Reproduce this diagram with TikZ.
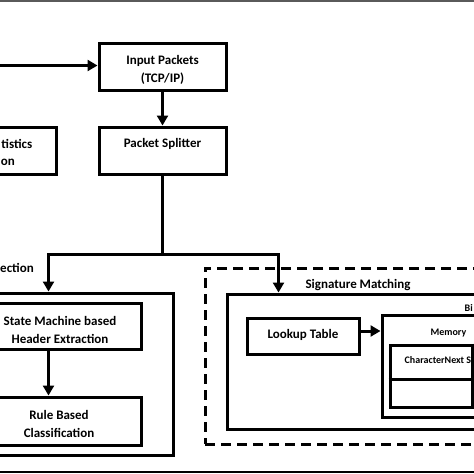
\documentclass[tikz,border=0pt]{standalone}
\usepackage{fontspec}
\setmainfont{Carlito}
\usetikzlibrary{arrows.meta,calc}
\definecolor{topgray}{RGB}{90,90,90}
\begin{document}
\begin{tikzpicture}[x=1pt,y=-1pt,
  box/.style={draw,line width=3pt,rectangle,inner sep=0pt},
  dbox/.style={draw,line width=3pt,rectangle,inner sep=0pt,dash pattern=on 10pt off 6pt},
  txt/.style={inner sep=0pt,align=center,font=\fontsize{13}{18}\selectfont\bfseries},
  stxt/.style={inner sep=0pt,align=center,font=\fontsize{10}{12}\selectfont\bfseries},
  conn/.style={line width=3pt},
  arr/.style={line width=3pt,-{Triangle[length=10pt,width=11pt]}}
]
\useasboundingbox (0,0) rectangle (474,474);
\clip (0,0) rectangle (474,474);
\fill[white] (0,0) rectangle (474,474);
\fill[topgray] (0,0) rectangle (474,2.2);
\draw[line width=2.5pt] (0,472) -- (474,472);

% top boxes
\node[box,minimum width=127pt,minimum height=47pt] (inp) at (162.5,66.5) {};
\node[txt] (inpt) at (162.5,70) {Input Packets\\(TCP/IP)};
\node[box,minimum width=127pt,minimum height=47pt] (spl) at (162.5,150.5) {};
\node[txt] (splt) at (162.5,144) {Packet Splitter};
\node[box,minimum width=116pt,minimum height=47pt] (stat) at (-2,150.5) {};
\node[txt,anchor=east] (statt1) at (32.5,144) {tistics};
\node[txt,anchor=east] (statt2) at (15,162) {on};

% header inspection
\node[box,minimum width=203pt,minimum height=162pt] (hdr) at (71.5,374) {};
\node[txt,anchor=east] (ect) at (34,268) {ection};
\node[box,minimum width=162pt,minimum height=46pt] (sm) at (60,326) {};
\node[txt] (smt) at (60,329.5) {State Machine based\\Header Extraction};
\node[box,minimum width=162pt,minimum height=48pt] (rule) at (60,421) {};
\node[txt] (rulet) at (59,424) {Rule Based\\Classification};

% signature matching
\node[dbox,minimum width=355pt,minimum height=176pt] (sigd) at (382.5,356) {};
\node[box,minimum width=313pt,minimum height=135pt] (sig) at (383.5,361.5) {};
\node[txt] (sigt) at (358,285.5) {Signature Matching};
\node[box,minimum width=112pt,minimum height=36pt] (lut) at (303,336) {};
\node[txt] (lutt) at (303,335) {Lookup Table};
\node[box,minimum width=138pt,minimum height=102pt] (bi) at (451,366) {};
\node[stxt,anchor=west] (bit) at (464.5,308) {Bi};
\node[stxt] (memt) at (448.5,333) {Memory};
\node[box,minimum width=130pt,minimum height=62pt] (tbl) at (455,376) {};
\node[stxt,anchor=west] (chart) at (404.5,360.5) {CharacterNext S};
\coordinate (trow) at (0,379);
\coordinate (tcol) at (472,0);
\draw[conn] (tbl.west |- trow) -- (tbl.east |- trow);
\draw[conn] (tcol |- tbl.north) -- (tcol |- tbl.south);

% connectors
\coordinate (src) at (-5,65.5);
\draw[arr] (src) -- (src -| inp.west);
\draw[arr] (inp.south) -- (spl.north);
\coordinate (hy) at (0,254);
\coordinate (lx) at (48.5,0);
\coordinate (rx) at (278.5,0);
\draw[conn] (spl.south) -- (spl.south |- hy);
\draw[arr] (spl.south |- hy) -| (lx |- hdr.north);
\draw[arr] (spl.south |- hy) -| (rx |- sig.north);
\draw[arr] (lx |- sm.south) -- (lx |- rule.north);
\draw[arr] ([yshift=5pt]lut.east) -- ([yshift=5pt]lut.east -| bi.west);
\end{tikzpicture}
\end{document}
